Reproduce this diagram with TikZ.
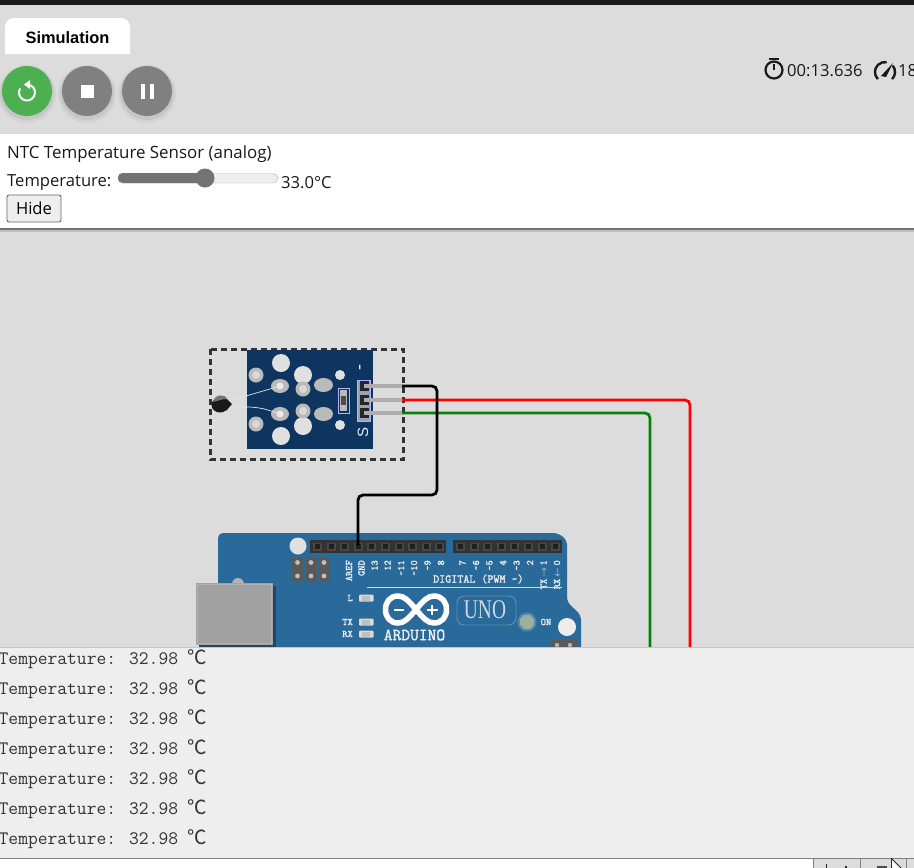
\documentclass[tikz,border=0pt]{standalone}
\usepackage{fontspec}
\usepackage{xcolor}
\setmainfont{Open Sans}
\newfontfamily\arialfont{Liberation Sans}
\newfontfamily\cjk{Noto Sans CJK SC}
\newfontfamily\silkfont[FakeBold=1.5]{Latin Modern Mono}
\usetikzlibrary{positioning,calc,shapes.geometric}
\definecolor{pagegray}{HTML}{DCDCDC}
\definecolor{btngreen}{HTML}{4CAF50}
\definecolor{btngray}{HTML}{808080}
\definecolor{pcbblue}{HTML}{0E3560}
\definecolor{boardblue}{HTML}{2A6A9B}
\definecolor{holegray}{HTML}{BABABA}
\definecolor{panelgray}{HTML}{EEEEEE}
\definecolor{wiregreen}{HTML}{0A800A}
\tikzset{
    uitext/.style={anchor=west,inner sep=0pt,font=\fontsize{16.6}{17}\selectfont,text=black!90},
    serialline/.style={anchor=west,inner sep=0pt,font=\fontsize{19}{19}\ttfamily\selectfont,text=black!80},
    silk/.style={inner sep=0pt,text=white!90!boardblue,font=\fontsize{10}{10}\silkfont\selectfont},
    pinlabel/.style={silk,rotate=90,anchor=east},
    roundbtn/.style={circle,minimum size=50pt,inner sep=0pt,text=white},
    wirepath/.style={line width=2.8pt,rounded corners=5pt},
}
\begin{document}
\begin{tikzpicture}[x=1pt,y=-1pt]
    \useasboundingbox (0,0) rectangle (914,868);
    \clip (0,0) rectangle (914,868);
    \fill[pagegray] (0,0) rectangle (914,868);
    \fill[black!90] (0,0) rectangle (914,5);

    % toolbar
    \fill[white,rounded corners=9pt] (5,54) -- (5,18) -- (130,18) -- (130,54);
    \fill[white] (5,44) rectangle (130,54);
    \node[inner sep=0pt,font=\arialfont\bfseries\fontsize{16.4}{16}\selectfont] (simtab) at (67.5,37.5) {Simulation};
    \foreach \cx in {27,87,147}{
        \fill[black,opacity=0.04] (\cx,94) circle (29);
        \fill[black,opacity=0.06] (\cx,93) circle (27);
    }
    \node[roundbtn,fill=btngreen] (restartbtn) at (27,91) {};
    \node[roundbtn,fill=btngray] (stopbtn) at (87,91) {};
    \node[roundbtn,fill=btngray] (pausebtn) at (147,91) {};
    \draw[white,line width=2pt] (20.07,88.5) arc (-150:-450:8); % restart
    \fill[white] (24,84.5) -- (30,80) -- (30,89) -- cycle;
    \fill[white] (80.5,84.5) rectangle (93.5,97.5);
    \fill[white] (140.5,83.5) rectangle (145,98.5);
    \fill[white] (149.5,83.5) rectangle (154,98.5);

    % timer and speed
    \draw[black!90,line width=2.2pt] (774,70) circle (8.5);
    \draw[black!90,line width=2.2pt] (769,59) -- (779,59);
    \draw[black!90,line width=1.8pt] (774,70) -- (774,64);
    \node[uitext] (timerlabel) at (787,71) {00:13.636};
    \draw[black!90,line width=2.4pt] (877.9,79.1) arc (-225:-80:10);
    \draw[black!90,line width=2.4pt] (892.7,65.6) arc (-40:45:10);
    \fill[black!90] (881,76) -- (893,63) -- (886,77) -- cycle;
    \node[uitext] (speedlabel) at (898,71) {18};

    % control panel
    \fill[black!25] (0,229) rectangle (914,232);
    \fill[white] (0,134) rectangle (914,228);
    \fill[black!55] (0,228) rectangle (914,229.5);
    \node[uitext,font=\fontsize{16.9}{17}\selectfont] (sensortitle) at (7,154) {NTC Temperature Sensor (analog)};
    \node[uitext] (templabel) at (7,183) {Temperature:};
    \draw[black!30,fill=panelgray,rounded corners=5pt] (118,173.5) rectangle (278,183);
    \fill[black!55,rounded corners=4.5pt] (118,173) rectangle (207,183);
    \node[circle,fill=black!55,minimum size=19pt,inner sep=0pt] (sliderknob) at (205,178) {};
    \node[uitext] (tempvalue) at (281,183) {33.0°C};
    \node[draw=black!60,line width=0.9pt,fill=panelgray,rounded corners=2pt,minimum width=54pt,minimum height=27pt,inner sep=0pt,font=\fontsize{16.6}{17}\selectfont] (hidebtn) at (34,208.5) {Hide};

    % sensor module
    \draw[black!80,line width=3pt,dash pattern=on 6pt off 4pt] (210,349) rectangle (403.5,459);
    \fill[pcbblue] (247,350) rectangle (373,449);
    \foreach \hx/\hy/\hr in {281/363/9,303/375/9,340/375/5,340/425/5,303/426/9,281/436/9}{
        \fill[white!88!black] (\hx,\hy) circle (\hr);
    }
    \foreach \hx/\hy in {256/375,256/424,303/389,303/411}{
        \fill[holegray] (\hx,\hy) circle (7.5);
        \fill[white!85!black] (\hx,\hy) circle (4);
    }
    \foreach \hx/\hy in {280/386,280/414}{
        \fill[holegray] (\hx,\hy) ellipse (9 and 7);
        \fill[white!92!black] (\hx,\hy) circle (3.5);
    }
    \fill[holegray] (323.5,385) ellipse (9.5 and 7);
    \fill[holegray] (323.5,414) ellipse (9.5 and 7);
    \draw[black!10,line width=0.7pt] (232,399) -- (246,396) -- (280,386);
    \draw[black!10,line width=0.7pt] (232,407) -- (250,407) .. controls (262,408) .. (280,414);
    \node[ellipse,fill=black!90,minimum width=17pt,minimum height=15pt,inner sep=0pt] (thermistor) at (220,405) {};
    \fill[black!90] (226,398) -- (232,404) -- (226,411) -- cycle;
    \fill[black!55] (213,402) arc (-170:-40:8) -- cycle;
    \draw[blue!30!white,line width=0.8pt,fill=pcbblue] (338,388) rectangle (349,413);
    \fill[holegray] (340,390) rectangle (347,411);
    \fill[black!70] (341,396) rectangle (346,405);
    \draw[blue!30!white,line width=0.8pt,fill=white!55!pcbblue] (357.5,380) rectangle (370,421);
    \foreach \py in {386,400,413}{
        \fill[black!85] (360,\py-5) rectangle (369,\py+5);
        \fill[black!32] (364,\py-2.2) rectangle (402,\py+2.2);
    }
    \node[silk,font=\arialfont\fontsize{18}{18}\selectfont,rotate=90] (minuslabel) at (362,367) {-};
    \node[silk,font=\arialfont\fontsize{15}{15}\selectfont,rotate=90] (signallabel) at (363,432) {S};
    \coordinate (pinground) at (402,386);
    \coordinate (pinpower) at (402,400);
    \coordinate (pinsignal) at (402,413);

    % arduino board
    \fill[boardblue,rounded corners=5pt] (218,660) -- (218,533) -- (558,533) -- (567,540) -- (567,602) -- (581,615) -- (581,660) -- cycle;
    \fill[white!88!black] (298,546) circle (8.5);
    \fill[white!93!black] (567,627) circle (9);
    \fill[black!80] (310,540) rectangle (446,553);
    \fill[black!80] (453,540) rectangle (562,553);
    \foreach \i in {0,...,9}{
        \fill[black!72] (313+13.6*\i,542.5) rectangle (322+13.6*\i,551);
        \fill[black!88] (315+13.6*\i,544) rectangle (320+13.6*\i,549);
    }
    \foreach \i in {0,...,7}{
        \fill[black!72] (456+13.6*\i,542.5) rectangle (465+13.6*\i,551);
        \fill[black!88] (458+13.6*\i,544) rectangle (463+13.6*\i,549);
    }
    \foreach \hx in {297.5,311,324}{
        \fill[black!65] (\hx-5.5,557) rectangle (\hx+5.5,582);
        \fill[black!25] (\hx,562.5) circle (2.4);
        \fill[black!25] (\hx,576) circle (2.4);
    }
    \foreach \lx/\ltxt/\lname in {349/AREF/lblaref,361.5/GND/lblgnd,374.5/13/lblxiii,387.5/12/lblxii,401/\textasciitilde11/lblxi,414/\textasciitilde10/lblx,427.5/\textasciitilde9/lblix,441/8/lblviii,462.5/7/lblvii,476/\textasciitilde6/lblvi,489.5/\textasciitilde5/lblv,503/4/lbliv,516.5/\textasciitilde3/lbliii,530/2/lblii}{
        \node[pinlabel] (\lname) at (\lx,560) {\ltxt};
    }
    \node[pinlabel] (lbltx) at (543.5,560) {TX\,$\rightarrow$\,1};
    \node[pinlabel] (lblrx) at (557,560) {RX\,$\leftarrow$\,0};
    \draw[white!75!boardblue,line width=0.9pt] (367,587) -- (562,587);
    \node[silk,anchor=west,font=\fontsize{11.7}{12}\silkfont\selectfont] (digitallabel) at (433,579) {DIGITAL (PWM \textasciitilde)};

    % usb, leds, logo
    \fill[black!30!boardblue] (199,586) rectangle (276,648);
    \fill[black!30] (238,584) circle (6);
    \fill[black!37] (196,583) rectangle (273,645);
    \draw[black!30,line width=0.8pt] (197.5,584.5) rectangle (271.5,643.5);
    \foreach \ly/\ltxt/\lname in {598/L/ledl,622/TX/ledtx,634/RX/ledrx}{
        \node[silk,anchor=east] (\lname label) at (353,\ly) {\ltxt};
        \fill[white!85!black,rounded corners=1pt] (359,\ly-3.5) rectangle (373.5,\ly+3.5);
        \fill[black!25] (362,\ly-2.5) rectangle (370,\ly+2.5);
    }
    \draw[white,line width=5.5pt] (416,609.5) .. controls (408,600) and (404,596) .. (398,596)
        .. controls (390,596) and (385.5,602) .. (385.5,609.5) .. controls (385.5,617) and (390,623) .. (398,623)
        .. controls (404,623) and (408,619) .. (416,609.5) .. controls (424,600) and (428,596) .. (434,596)
        .. controls (442,596) and (446.5,602) .. (446.5,609.5) .. controls (446.5,617) and (442,623) .. (434,623)
        .. controls (428,623) and (424,619) .. (416,609.5) -- cycle;
    \draw[white,line width=2pt] (393.5,609.5) -- (404,609.5);
    \draw[white,line width=2pt] (427,609.5) -- (437.5,609.5);
    \draw[white,line width=2pt] (432.3,604.5) -- (432.3,614.5);
    \node[silk,font=\fontsize{17}{17}\silkfont\selectfont] (arduinolabel) at (414.5,635) {ARDUINO};
    \draw[white!25!boardblue,rounded corners=7pt,line width=0.9pt] (457,596) rectangle (516,625);
    \node[inner sep=0pt,text=white!75!boardblue,xscale=0.72,font=\fontsize{27}{27}\selectfont\rmfamily] (unolabel) at (485,609.5) {\fontspec{Liberation Serif}UNO};
    \fill[white!20!boardblue] (527,622) circle (9.5);
    \node[regular polygon,regular polygon sides=8,fill=green!25!black!40!white,minimum size=15pt,inner sep=0pt] (onled) at (527,622) {};
    \node[silk] (onlabel) at (546,622) {ON};
    \fill[black!65] (551,640) rectangle (577,652);
    \fill[black!30] (557,645) circle (2.2);
    \fill[black!30] (570,645) circle (2.2);
    \coordinate (boardgnd) at (358,545);
    \coordinate (redcorner) at (690,400);
    \coordinate (redend) at (690,650);
    \coordinate (greencorner) at (650,413);
    \coordinate (greenend) at (650,650);

    % wires
    \draw[wirepath,red] (pinpower) -- (redcorner) -- (redend);
    \draw[wirepath,wiregreen] (pinsignal) -- (greencorner) -- (greenend);
    \draw[wirepath,black] (pinground) -- (437,386) -- (437,495) -- (358,495) -- (boardgnd);

    % serial monitor
    \fill[panelgray] (0,647) rectangle (914,858);
    \draw[black!22] (0,647) -- (914,647);
    \foreach \row in {0,...,6}{
        \node[serialline] (serial\row) at (-1.5,659+30*\row) {Temperature: 32.98 {\cjk\fontsize{19.5}{19}\selectfont ℃}};
    }
    \fill[white] (0,858) rectangle (813,868);
    \draw[black!50,line width=1pt] (0,858.5) -- (914,858.5);
    \draw[black!50,line width=1pt] (813,858.5) -- (813,868);
    \draw[black!50,line width=1pt] (860,858.5) -- (860,868);
    \draw[black!50,line width=1pt] (906,858.5) -- (906,868);
    \fill[black!85] (825.5,864) rectangle (827,868);
    \fill[black!85] (845,866) rectangle (847,868);
    \fill[black!70] (877,866) rectangle (887,868);
    \draw[black!85,fill=white,line width=0.8pt] (891.5,858.5) -- (891.5,868) -- (905,872) -- cycle;
\end{tikzpicture}
\end{document}
